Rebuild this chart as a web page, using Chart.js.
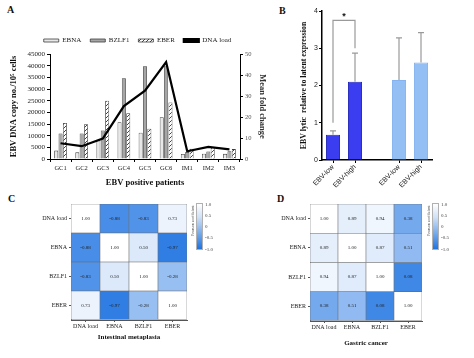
<!DOCTYPE html>
<html>
<head>
<meta charset="utf-8">
<script src="https://cdn.jsdelivr.net/npm/chart.js@4.4.1/dist/chart.umd.min.js"></script>
<style>
  body { margin: 0; background: #fff; }
  #page { position: relative; width: 474px; height: 358px; overflow: hidden; font-family: "Liberation Serif", serif; }
  canvas { position: absolute; }
  .tag { position: absolute; font: bold 10px "Liberation Serif", serif; color: #111; }
  .cbar { position: absolute; width: 5px; height: 45px; background: linear-gradient(#ffffff, #cfe0f7 30%, #6aa3ea 70%, #1e73e2); border: 1px solid #b0b0b0; }
  .cbl { position: absolute; font: 5px "Liberation Serif", serif; color: #444; line-height: 5px; }
  .cbt { position: absolute; font: 4px "Liberation Serif", serif; color: #444; white-space: nowrap; transform: rotate(-90deg); transform-origin: left top; }
</style>
</head>
<body>
<div id="page">
  <div class="tag" style="left:7px;top:4px">A</div>
  <div class="tag" style="left:279px;top:5px">B</div>
  <div class="tag" style="left:8px;top:193px">C</div>
  <div class="tag" style="left:277px;top:193px">D</div>

  <canvas id="chartA" width="275" height="160" style="left:0;top:28px"></canvas>
  <canvas id="chartB" width="150" height="185" style="left:290px;top:5px"></canvas>
  <canvas id="chartC" width="237" height="160" style="left:0;top:195px"></canvas>
  <canvas id="chartD" width="237" height="160" style="left:237px;top:195px"></canvas>

  <div class="cbar" style="left:196px;top:203px"></div>
  <div class="cbt" style="left:190px;top:236px">Pearson coefficient</div>
  <div class="cbl" style="left:205px;top:202px">1.0</div>
  <div class="cbl" style="left:205px;top:213px">0.5</div>
  <div class="cbl" style="left:205px;top:224px">0</div>
  <div class="cbl" style="left:205px;top:235px">-0.5</div>
  <div class="cbl" style="left:205px;top:247px">-1.0</div>

  <div class="cbar" style="left:432px;top:203px"></div>
  <div class="cbt" style="left:426px;top:236px">Pearson coefficient</div>
  <div class="cbl" style="left:441px;top:202px">1.0</div>
  <div class="cbl" style="left:441px;top:213px">0.5</div>
  <div class="cbl" style="left:441px;top:224px">0</div>
  <div class="cbl" style="left:441px;top:235px">-0.5</div>
  <div class="cbl" style="left:441px;top:247px">-1.0</div>
</div>
<script>
// Panel A: copy numbers per patient (left axis) and DNA load fold change (right axis)
const patients = ['GC1', 'GC2', 'GC3', 'GC4', 'GC5', 'GC6', 'IM1', 'IM2', 'IM3'];
const ebnaCopies = [3600, 2850, 8000, 15800, 11300, 17900, 2150, 2300, 2200];
const bzlf1Copies = [10900, 10900, 12200, 34600, 39800, 40000, 3000, 3250, 3300];
const eberCopies = [15400, 14900, 25000, 19600, 13000, 24200, 4400, 4950, 4250];
const dnaLoadFold = [7.5, 6.1, 9.7, 25.2, 32.5, 46.2, 3.7, 5.8, 4.6];
const copyMax = 45000, copyStep = 5000;
const foldMax = 50, foldStep = 5;

// Panel B: lytic / latent ratio, mean and SD
const lyticGroups = ['EBV-low', 'EBV-high', '', 'EBV-low', 'EBV-high'];
const lyticMean = [0.68, 2.1, null, 2.15, 2.62];
const lyticSd = [0.1, 0.77, null, 1.13, 0.8];
const sigPair = [0, 1];
const sigLevels = [1.0, 3.75, 3.0]; // left leg end, bracket top, right leg end

// Panels C and D: Pearson coefficients
const markers = ['DNA load', 'EBNA', 'BZLF1', 'EBER'];
const imPearson = [
  [1.00, -0.88, -0.83, 0.73],
  [-0.88, 1.00, 0.50, -0.97],
  [-0.83, 0.50, 1.00, -0.28],
  [0.73, -0.97, -0.28, 1.00]
];
const gcPearson = [
  [1.00, 0.89, 0.94, 0.38],
  [0.89, 1.00, 0.87, 0.51],
  [0.94, 0.87, 1.00, 0.08],
  [0.38, 0.51, 0.08, 1.00]
];

const serif = '"Liberation Serif", serif';
const sans = '"Liberation Sans", Arial, sans-serif';

function hatchPattern() {
  const c = document.createElement('canvas');
  c.width = 4; c.height = 4;
  const g = c.getContext('2d');
  g.fillStyle = '#fff';
  g.fillRect(0, 0, 4, 4);
  g.strokeStyle = '#444';
  g.lineWidth = 1;
  g.beginPath();
  g.moveTo(0, 4); g.lineTo(4, 0);
  g.moveTo(-1, 1); g.lineTo(1, -1);
  g.moveTo(3, 5); g.lineTo(5, 3);
  g.stroke();
  return g.createPattern(c, 'repeat');
}

// ---- Panel A ----
new Chart(document.getElementById('chartA'), {
  type: 'bar',
  data: {
    labels: patients,
    datasets: [
      { label: 'EBNA', data: ebnaCopies, backgroundColor: '#e8e8e8', borderColor: '#3c3c3c', borderWidth: 0.8, order: 2 },
      { label: 'BZLF1', data: bzlf1Copies, backgroundColor: '#a6a6a6', borderColor: '#3c3c3c', borderWidth: 0.8, order: 2 },
      { label: 'EBER', data: eberCopies, backgroundColor: hatchPattern(), borderColor: '#3c3c3c', borderWidth: 0.8, order: 2 },
      { type: 'line', label: 'DNA load', data: dnaLoadFold, yAxisID: 'y1', borderColor: '#000', backgroundColor: '#000',
        borderWidth: 2.2, pointRadius: 0, tension: 0, order: 1 }
    ]
  },
  options: {
    responsive: false,
    animation: false,
    datasets: { bar: { categoryPercentage: 0.62, barPercentage: 0.92 } },
    plugins: {
      tooltip: { enabled: false },
      legend: {
        labels: {
          font: { family: serif, size: 7 }, color: '#222', boxWidth: 15, boxHeight: 3, padding: 9,
          sort: (a, b) => a.datasetIndex - b.datasetIndex
        }
      }
    },
    scales: {
      x: {
        grid: { drawOnChartArea: false, tickLength: 3, color: '#000' },
        border: { color: '#000', width: 1 },
        ticks: { font: { family: serif, size: 6.5 }, color: '#222', padding: 2 },
        title: { display: true, text: 'EBV positive patients', font: { family: serif, size: 8.5, weight: 'bold' }, color: '#111', padding: { top: 2, bottom: 0 } },
        afterFit: s => { s.height = 29; }
      },
      y: {
        position: 'left', min: 0, max: copyMax,
        ticks: { stepSize: copyStep, font: { family: serif, size: 7 }, color: '#222', padding: 2, callback: v => String(v) },
        grid: { drawOnChartArea: false, tickLength: 3, color: '#000' },
        border: { color: '#000', width: 1 },
        title: { display: true, text: 'EBV DNA copy no./10\u2075 cells', font: { family: serif, size: 8.5, weight: 'bold' }, color: '#111', padding: { top: 9, bottom: 0 } },
        afterFit: s => { s.width = 50; }
      },
      y1: {
        position: 'right', min: 0, max: foldMax,
        ticks: { stepSize: foldStep, font: { family: serif, size: 6.5 }, color: '#555', padding: 2 },
        grid: { drawOnChartArea: false, tickLength: 3, color: '#000' },
        border: { color: '#000', width: 1 },
        title: { display: true, text: 'Mean fold change', font: { family: serif, size: 8.5, weight: 'bold' }, color: '#333', padding: { top: 8, bottom: 0 } },
        afterFit: s => { s.width = 35; }
      }
    }
  }
});

// ---- Panel B ----
const errorBars = {
  id: 'errorBars',
  afterDatasetsDraw(chart) {
    const ctx = chart.ctx;
    const y = chart.scales.y;
    ctx.save();
    ctx.strokeStyle = '#9a9a9a';
    ctx.lineWidth = 1.2;
    chart.data.datasets.forEach((ds, i) => {
      chart.getDatasetMeta(i).data.forEach((bar, j) => {
        if (ds.data[j] == null) return;
        const top = y.getPixelForValue(ds.data[j] + ds.errors[j]);
        ctx.beginPath();
        ctx.moveTo(bar.x, bar.y);
        ctx.lineTo(bar.x, top);
        ctx.moveTo(bar.x - 3, top);
        ctx.lineTo(bar.x + 3, top);
        ctx.stroke();
      });
    });
    ctx.restore();
  }
};

const sigBracket = {
  id: 'sigBracket',
  afterDatasetsDraw(chart) {
    const ctx = chart.ctx;
    const y = chart.scales.y;
    const bars = chart.getDatasetMeta(0).data;
    const x0 = bars[sigPair[0]].x, x1 = bars[sigPair[1]].x;
    const yTop = y.getPixelForValue(sigLevels[1]);
    ctx.save();
    ctx.strokeStyle = '#9a9a9a';
    ctx.lineWidth = 1.2;
    ctx.beginPath();
    ctx.moveTo(x0, y.getPixelForValue(sigLevels[0]));
    ctx.lineTo(x0, yTop);
    ctx.lineTo(x1, yTop);
    ctx.lineTo(x1, y.getPixelForValue(sigLevels[2]));
    ctx.stroke();
    ctx.fillStyle = '#111';
    ctx.font = 'bold 9px ' + sans;
    ctx.textAlign = 'center';
    ctx.textBaseline = 'bottom';
    ctx.fillText('*', (x0 + x1) / 2, yTop + 1);
    ctx.restore();
  }
};

const groupFill = ['#3b3ef0', '#3b3ef0', '#ffffff', '#93bff5', '#93bff5'];
const groupEdge = ['#2327b8', '#2327b8', '#ffffff', '#84b3ee', '#84b3ee'];

new Chart(document.getElementById('chartB'), {
  type: 'bar',
  data: {
    labels: lyticGroups,
    datasets: [{
      data: lyticMean, errors: lyticSd,
      backgroundColor: groupFill, borderColor: groupEdge, borderWidth: 1,
      categoryPercentage: 1, barPercentage: 0.64
    }]
  },
  options: {
    responsive: false,
    animation: false,
    layout: { padding: { top: 6, right: 8, left: 0, bottom: 0 } },
    plugins: { legend: { display: false }, tooltip: { enabled: false } },
    scales: {
      x: {
        grid: { drawOnChartArea: false, offset: false, tickLength: 3, color: c => lyticGroups[c.index] ? '#000' : 'rgba(0,0,0,0)' },
        border: { color: '#000', width: 1.5 },
        ticks: { font: { family: sans, size: 7 }, color: '#222', minRotation: 45, maxRotation: 45, padding: 0, autoSkip: false },
        afterFit: s => { s.height = 30; }
      },
      y: {
        min: 0, max: 4,
        ticks: { stepSize: 1, font: { family: sans, size: 7 }, color: '#222', padding: 1 },
        grid: { drawOnChartArea: false, tickLength: 3, color: '#000' },
        border: { color: '#000', width: 1.5 },
        title: { display: true, text: 'EBV lytic  relative to latent expression', font: { family: serif, size: 7.8, weight: 'bold' }, color: '#111', padding: { top: 9, bottom: 0 } },
        afterFit: s => { s.width = 32; }
      }
    }
  },
  plugins: [errorBars, sigBracket]
});

// ---- Panels C and D: heatmaps built as stacked unit bars ----
const blue = [30, 115, 226];
function cellColor(v, vmin, gamma) {
  let t = Math.max(0, Math.min(1, (v - vmin) / (1 - vmin)));
  t = Math.pow(t, gamma);
  const c = blue.map(b => Math.round(b + (255 - b) * t));
  return 'rgb(' + c.join(',') + ')';
}

const cellText = {
  id: 'cellText',
  afterDatasetsDraw(chart) {
    const ctx = chart.ctx;
    ctx.save();
    ctx.font = '5px ' + serif;
    ctx.fillStyle = '#222';
    ctx.textAlign = 'center';
    ctx.textBaseline = 'middle';
    chart.data.datasets.forEach((ds, i) => {
      chart.getDatasetMeta(i).data.forEach((bar, j) => {
        const p = bar.getCenterPoint();
        ctx.fillText(ds.values[j].toFixed(2), p.x, p.y);
      });
    });
    ctx.restore();
  }
};

function heatmap(id, corr, title, vmin, gamma, pad, axisH) {
  const rowOrder = [3, 2, 1, 0]; // bottom row first
  new Chart(document.getElementById(id), {
    type: 'bar',
    data: {
      labels: markers,
      datasets: rowOrder.map(r => ({
        label: markers[r],
        data: markers.map(() => 1),
        values: corr[r],
        backgroundColor: corr[r].map(v => cellColor(v, vmin, gamma)),
        borderColor: '#6a6a6a',
        borderWidth: 0.6,
        borderSkipped: false,
        categoryPercentage: 1,
        barPercentage: 1
      }))
    },
    options: {
      responsive: false,
      animation: false,
      layout: { padding: pad },
      plugins: { legend: { display: false }, tooltip: { enabled: false } },
      scales: {
        x: {
          stacked: true,
          grid: { drawOnChartArea: false, offset: false, tickLength: 2, color: '#555' },
          border: { color: '#555', width: 1 },
          ticks: { font: { family: serif, size: 6 }, color: '#222', padding: 1, maxRotation: 0, minRotation: 0, autoSkip: false },
          title: { display: true, text: title, font: { family: serif, size: 7, weight: 'bold' }, color: '#111', padding: { top: 0, bottom: 0 } },
          afterFit: s => { s.height = axisH; }
        },
        y: {
          stacked: true, min: 0, max: 4,
          ticks: {
            stepSize: 0.5, autoSkip: false, font: { family: serif, size: 6 }, color: '#222', padding: 2,
            callback: v => Number.isInteger(v) ? '' : markers[3 - Math.floor(v)]
          },
          grid: { drawOnChartArea: false, tickLength: 2, color: c => (c.tick && !Number.isInteger(c.tick.value)) ? '#555' : 'rgba(0,0,0,0)' },
          border: { color: '#555', width: 1 },
          afterFit: s => { s.width = pad.yw; }
        }
      }
    },
    plugins: [cellText]
  });
}

heatmap('chartC', imPearson, 'Intestinal metaplasia', -1, 0.6, { top: 9, right: 50, left: 0, bottom: 14, yw: 71 }, 21);
heatmap('chartD', gcPearson, 'Gastric cancer', -0.2, 1.3, { top: 9, right: 52, left: 0, bottom: 8, yw: 73 }, 26);
</script>
</body>
</html>
